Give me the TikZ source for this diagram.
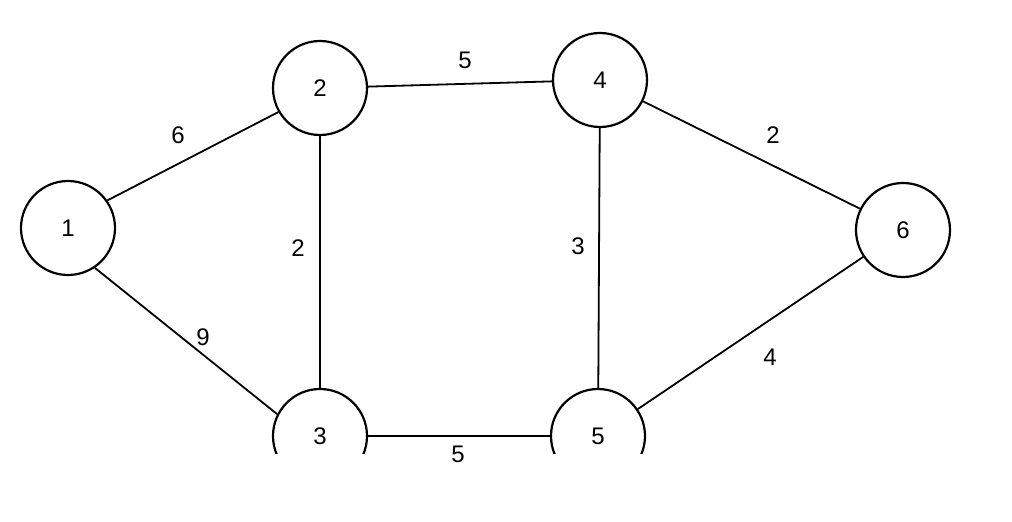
\documentclass[tikz,border=0pt]{standalone}
\usepackage{fontspec}
\setmainfont{Liberation Sans}
\begin{document}
\begin{tikzpicture}[x=1pt,y=-1pt,
  vtx/.style={draw,circle,line width=2.2pt,minimum size=94pt,inner sep=0pt,font=\fontsize{24}{28}\selectfont},
  edge/.style={line width=1.8pt},
  lbl/.style={font=\fontsize{24}{28}\selectfont}]
\useasboundingbox (0,0) rectangle (1012,522);
\node[vtx] (n1) at (68,228) {1};
\node[vtx] (n2) at (320,88) {2};
\node[vtx] (n4) at (600,80) {4};
\node[vtx] (n6) at (903,230) {6};
\node[vtx] (n3) at (320,436) {3};
\node[vtx] (n5) at (598,436) {5};
\draw[edge] (n1.35) -- (n2.210);
\draw[edge] (n1.-56) -- (n3.153);
\draw[edge] (n2) -- (n4);
\draw[edge] (n2) -- (n3);
\draw[edge] (n3) -- (n5);
\draw[edge] (n4) -- (n5);
\draw[edge] (n4) -- (n6);
\draw[edge] (n5) -- (n6);
\fill[white] (0,454) rectangle (1012,522);
\node[lbl] (l12) at (178,135) {6};
\node[lbl] (l24) at (465,60) {5};
\node[lbl] (l46) at (773,135) {2};
\node[lbl] (l23) at (298,248) {2};
\node[lbl] (l45) at (578,246) {3};
\node[lbl] (l13) at (203,337) {9};
\node[lbl] (l35) at (458,454) {5};
\node[lbl] (l56) at (770,357) {4};
\end{tikzpicture}
\end{document}
